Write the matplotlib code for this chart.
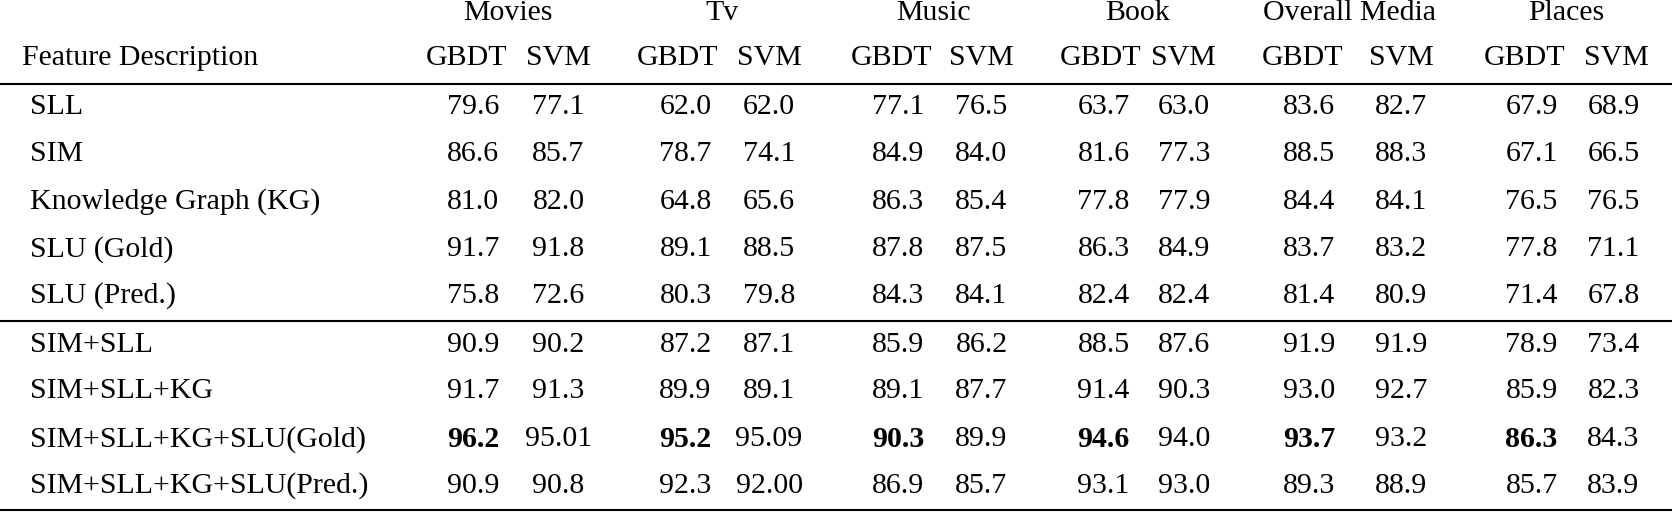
import matplotlib.pyplot as plt

groups = ["Movies", "Tv", "Music", "Book", "Overall Media", "Places"]
features = ["SLL", "SIM", "Knowledge Graph (KG)", "SLU (Gold)", "SLU (Pred.)",
            "SIM+SLL", "SIM+SLL+KG", "SIM+SLL+KG+SLU(Gold)", "SIM+SLL+KG+SLU(Pred.)"]
values = [
    ["79.6", "77.1", "62.0", "62.0", "77.1", "76.5", "63.7", "63.0", "83.6", "82.7", "67.9", "68.9"],
    ["86.6", "85.7", "78.7", "74.1", "84.9", "84.0", "81.6", "77.3", "88.5", "88.3", "67.1", "66.5"],
    ["81.0", "82.0", "64.8", "65.6", "86.3", "85.4", "77.8", "77.9", "84.4", "84.1", "76.5", "76.5"],
    ["91.7", "91.8", "89.1", "88.5", "87.8", "87.5", "86.3", "84.9", "83.7", "83.2", "77.8", "71.1"],
    ["75.8", "72.6", "80.3", "79.8", "84.3", "84.1", "82.4", "82.4", "81.4", "80.9", "71.4", "67.8"],
    ["90.9", "90.2", "87.2", "87.1", "85.9", "86.2", "88.5", "87.6", "91.9", "91.9", "78.9", "73.4"],
    ["91.7", "91.3", "89.9", "89.1", "89.1", "87.7", "91.4", "90.3", "93.0", "92.7", "85.9", "82.3"],
    ["96.2", "95.01", "95.2", "95.09", "90.3", "89.9", "94.6", "94.0", "93.7", "93.2", "86.3", "84.3"],
    ["90.9", "90.8", "92.3", "92.00", "86.9", "85.7", "93.1", "93.0", "89.3", "88.9", "85.7", "83.9"],
]
bold_row = 7
bold_cols = [0, 2, 4, 6, 8, 10]

plt.rcParams['font.family'] = ['Liberation Serif', 'DejaVu Serif']
fig = plt.figure(figsize=(16.72, 5.13), dpi=100)
ax = fig.add_axes([0, 0, 1, 1])
ax.set_xlim(0, 1)
ax.set_ylim(1, 0)
ax.axis("off")

fs = 21.5
group_x = [0.304, 0.432, 0.558, 0.680, 0.807, 0.937]
col_x = [0.283, 0.334, 0.410, 0.460, 0.537, 0.587, 0.660, 0.708, 0.783, 0.838, 0.916, 0.965]
head_x = [0.279, 0.334, 0.405, 0.460, 0.533, 0.587, 0.658, 0.708, 0.779, 0.838, 0.912, 0.967]
row_y = [0.209, 0.301, 0.393, 0.486, 0.577, 0.672, 0.763, 0.856, 0.947]

for g, x in zip(groups, group_x):
    ax.text(x, 0.026, g, ha="center", va="center", fontsize=fs)
ax.text(0.013, 0.114, "Feature Description", ha="left", va="center", fontsize=fs)
for i, x in enumerate(head_x):
    ax.text(x, 0.114, "GBDT" if i % 2 == 0 else "SVM", ha="center", va="center", fontsize=fs)

for r, (feat, y) in enumerate(zip(features, row_y)):
    ax.text(0.018, y, feat, ha="left", va="center", fontsize=fs)
    for c, x in enumerate(col_x):
        w = "bold" if (r == bold_row and c in bold_cols) else "normal"
        ax.text(x, y, values[r][c], ha="center", va="center", fontsize=fs, fontweight=w)

for y in [0.163, 0.625, 0.994]:
    ax.plot([0, 1], [y, y], color="black", lw=1.5)

fig.savefig("out.png", dpi=100)
